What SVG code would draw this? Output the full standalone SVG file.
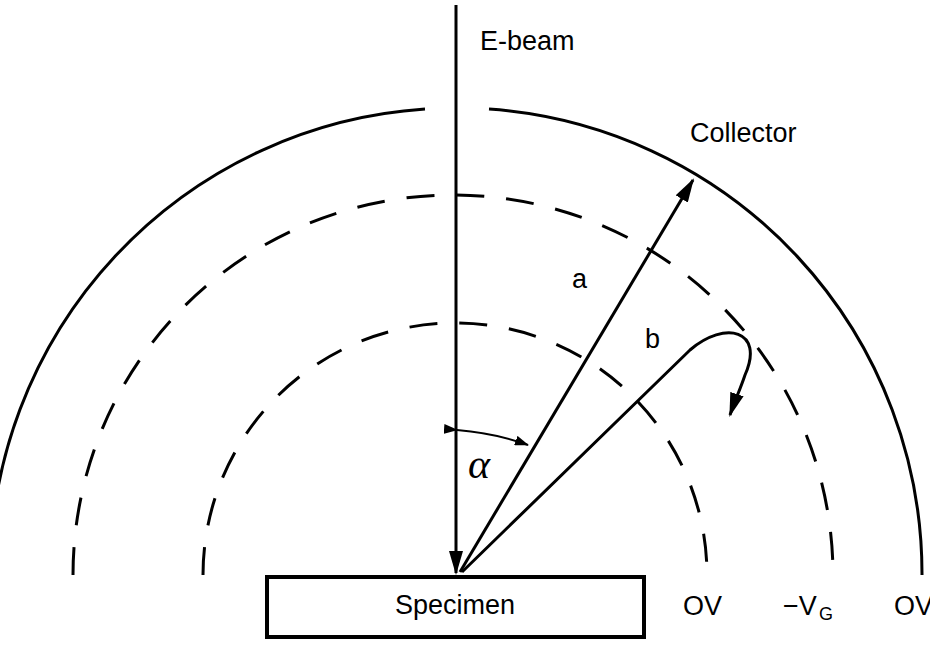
<svg xmlns="http://www.w3.org/2000/svg" width="930" height="660" viewBox="0 0 930 660">
<style>
.l{fill:none;stroke:#000;stroke-width:3}
.d{fill:none;stroke:#000;stroke-width:3;stroke-dasharray:28 22}
.t{font-family:"Liberation Sans",Arial,sans-serif;font-size:27px;fill:#000}
</style>
<defs>
<marker id="ah" markerWidth="14" markerHeight="10" refX="13" refY="5" orient="auto" markerUnits="userSpaceOnUse" viewBox="0 0 14 10"><path d="M0,0 L14,5 L0,10 z"/></marker>
<marker id="big" markerWidth="24" markerHeight="14" refX="22" refY="7" orient="auto" markerUnits="userSpaceOnUse" viewBox="0 0 24 14"><path d="M0,0 L24,7 L0,14 z"/></marker>
</defs>
<rect width="930" height="660" fill="#fff"/>
<g id="collector">
<path class="l" d="M-10,575 A466,466 0 0 1 425,109"/>
<path class="l" d="M489,109 A466,466 0 0 1 922,575"/>
<text class="t" x="690" y="142">Collector</text>
</g>
<g id="grid">
<path class="d" d="M73,575 A380,380 0 0 1 833,575"/>
<text class="t" x="783" y="615">−V</text><text class="t" x="819" y="620" style="font-size:18px">G</text>
</g>
<g id="inner">
<path class="d" d="M203,575 A252,252 0 0 1 707,575"/>
<text class="t" x="683" y="615">OV</text>
</g>
<text class="t" x="894" y="615">OV</text>
<g id="specimen">
<rect x="267" y="577" width="377" height="60" fill="none" stroke="#000" stroke-width="4"/>
<text class="t" x="455" y="614" text-anchor="middle">Specimen</text>
</g>
<g id="connectors">
<line class="l" x1="456" y1="5" x2="456" y2="573" marker-end="url(#big)"/>
<line class="l" x1="460" y1="572" x2="693" y2="180" marker-end="url(#big)"/>
<path class="l" d="M462,572 L690,350 C725,320 765,330 745,375 C740,390 735,400 730,415" stroke-width="3.5" marker-end="url(#big)"/>
<path fill="none" stroke="#000" stroke-width="2" d="M457,430 Q495,433 528,445" marker-start="url(#ah)" marker-end="url(#ah)"/>
</g>
<text class="t" x="480" y="50">E-beam</text>
<text class="t" x="572" y="288">a</text>
<text class="t" x="645" y="348">b</text>
<text x="468" y="478" style="font-family:'Liberation Serif',serif;font-style:italic;font-size:42px">α</text>
</svg>
